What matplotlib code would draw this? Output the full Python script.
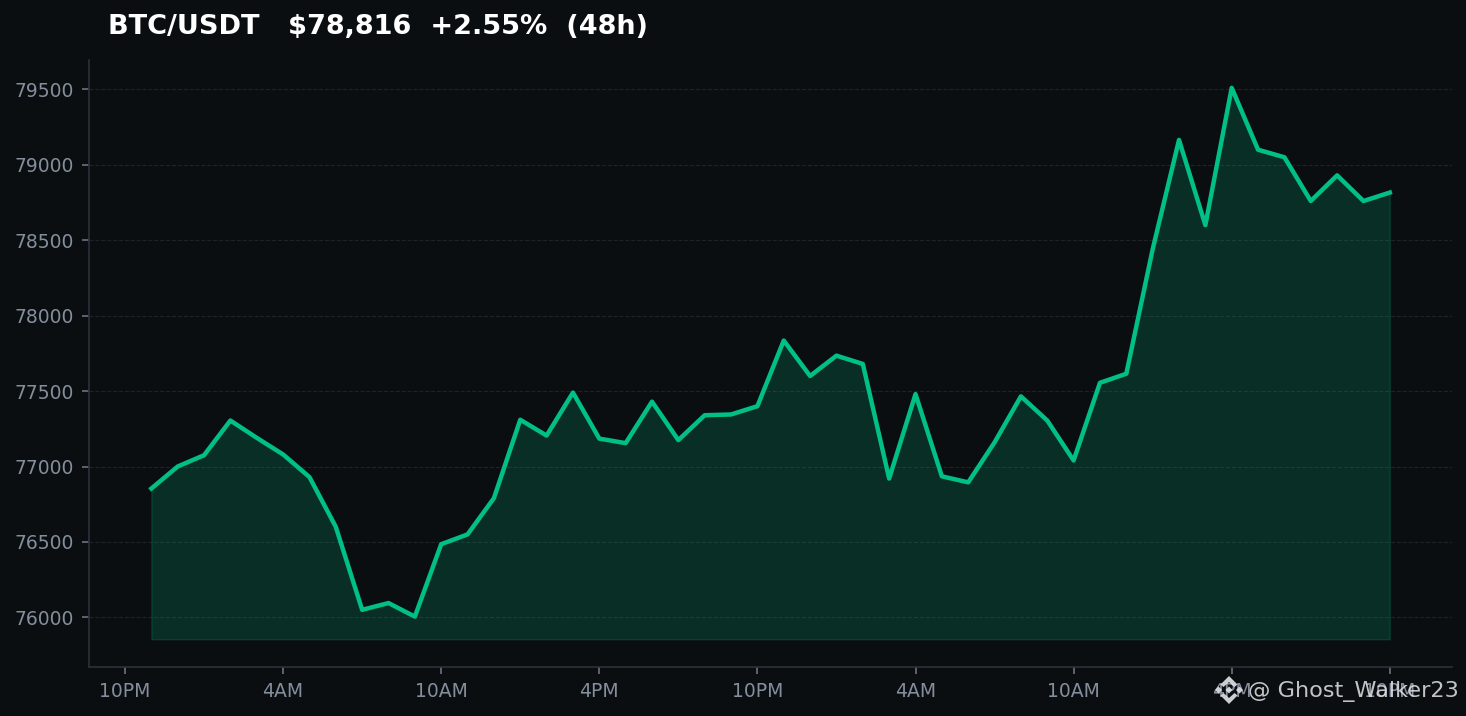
import matplotlib
matplotlib.use("Agg")
import matplotlib.pyplot as plt
from matplotlib.patches import Polygon

hours = list(range(1, 49))
prices = [76854, 77000, 77075, 77305, 77190, 77080, 76930, 76600, 76050, 76095,
          76005, 76485, 76550, 76790, 77310, 77205, 77490, 77185, 77155, 77430,
          77175, 77340, 77345, 77400, 77835, 77600, 77735, 77680, 76920, 77480,
          76935, 76895, 77160, 77465, 77305, 77040, 77555, 77615, 78440, 79165,
          78600, 79510, 79100, 79050, 78760, 78930, 78760, 78816]
fill_base = 75855
x_ticks = [0, 6, 12, 18, 24, 30, 36, 42, 48]
x_labels = ["10PM", "4AM", "10AM", "4PM", "10PM", "4AM", "10AM", "4PM", "10PM"]
y_ticks = [76000, 76500, 77000, 77500, 78000, 78500, 79000, 79500]
title = "BTC/USDT   $78,816  +2.55%  (48h)"
watermark = "@ Ghost_Walker23"

BG = "#0b0e11"
GREEN = "#00c087"
TICK = "#848e9c"
SPINE = "#2b3139"
W, H = 1466, 716

fig = plt.figure(figsize=(W / 100, H / 100), dpi=100, facecolor=BG)
ax = fig.add_axes([88.5 / W, 1 - 667 / H, (1452 - 88.5) / W, (667 - 59.5) / H], facecolor=BG)

ax.plot(hours, prices, color=GREEN, lw=3.2, solid_joinstyle="round", zorder=3)
ax.fill_between(hours, prices, fill_base, color=GREEN, alpha=0.18, zorder=2)

ax.set_xlim(-1.385, 50.36)
ax.set_ylim(75671, 79698)
ax.set_xticks(x_ticks)
ax.set_xticklabels(x_labels)
ax.set_yticks(y_ticks)
ax.tick_params(colors=TICK, labelsize=13.5, length=5, width=1.2, pad=5.5)
ax.tick_params(axis="x", pad=6)
ax.tick_params(axis="both", color="#6a7280")
ax.grid(axis="y", color="#1e2329", lw=0.8, ls="--", zorder=1)
ax.set_axisbelow(True)
for side in ("top", "right"):
    ax.spines[side].set_visible(False)
for side in ("left", "bottom"):
    ax.spines[side].set_color(SPINE)
    ax.spines[side].set_linewidth(1.2)

fig.text(108 / W, 1 - 27 / H, title, color="white", fontsize=19.5, fontweight="bold",
         va="center", ha="left")

# watermark: Binance-style logo plus handle
fig.text(1248 / W, 1 - 691 / H, watermark, color="#e2e4e7", alpha=0.85, fontsize=16.1,
         va="center", ha="left", zorder=10)

def logo_shape(points, cx=1229, cy=690):
    poly = Polygon([((cx + px) / W, 1 - (cy + py) / H) for px, py in points],
                   closed=True, transform=fig.transFigure, facecolor="#e2e4e7",
                   edgecolor="none", alpha=0.9, zorder=10)
    fig.add_artist(poly)

for pts in [
    [(0, -3.5), (3.5, 0), (0, 3.5), (-3.5, 0)],
    [(-10.5, -3.5), (-7, 0), (-10.5, 3.5), (-14, 0)],
    [(10.5, -3.5), (14, 0), (10.5, 3.5), (7, 0)],
    [(0, -14), (8.5, -5.5), (5.5, -3), (0, -8), (-5.5, -3), (-8.5, -5.5)],
    [(0, 14), (8.5, 5.5), (5.5, 3), (0, 8), (-5.5, 3), (-8.5, 5.5)],
]:
    logo_shape(pts)

fig.savefig("out.png", dpi=100, facecolor=BG)
